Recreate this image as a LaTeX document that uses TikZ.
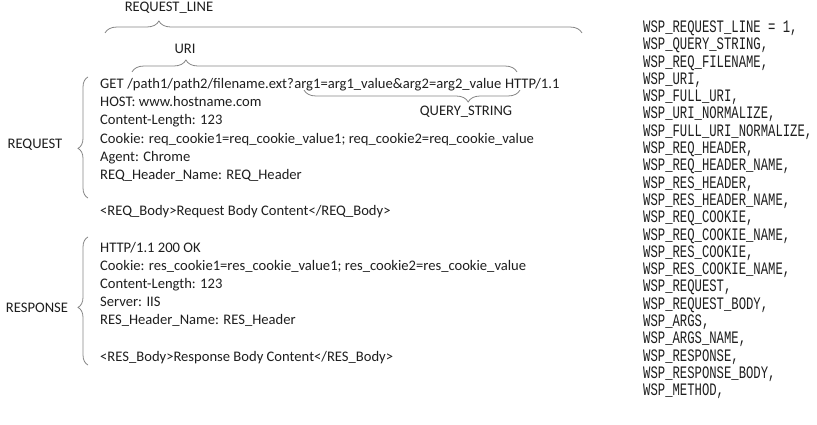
\documentclass[tikz,border=0pt]{standalone}
\usepackage{fontspec}
\setmainfont{Carlito}
\newfontfamily\wspfont[FakeStretch=0.7]{Liberation Mono}
\usetikzlibrary{decorations.pathreplacing, positioning}
\definecolor{inkgray}{HTML}{1E1E1E}
\definecolor{bracegray}{HTML}{858585}
\tikzset{
txt/.style={inner sep=0pt, text=inkgray, font=\fontsize{14.6}{18.2}\selectfont}, % every text line
nextrow/.style={below=#1, anchor=base west}, % next line, baseline to baseline
curly/.style={draw=bracegray, line width=0.8pt, decorate, decoration={brace, amplitude=#1}}, % grey brace
curly/.default=12pt,
}

\begin{document}
\begin{tikzpicture}[x=1pt,y=1pt]
  \useasboundingbox (0,0) rectangle (817,-425);
  % request line, split where the braces start and stop
  \node[txt, anchor=base west] (meth) at (100,-88.5) {GET};
  \node[txt, base right=3.3pt of meth] (path) {/path1/path2/filename.ext?};
  \node[txt, base right=0pt of path] (qs) {arg1=arg1\_value\&arg2=arg2\_value};
  \node[txt, base right=3.3pt of qs] (ver) {HTTP/1.1};
  \node[txt, nextrow=18.2pt of meth.base west] (host) {HOST: www.hostname.com};
  \node[txt, nextrow=18.2pt of host.base west] (reqlen) {Content-Length: 123};
  \node[txt, nextrow=18.2pt of reqlen.base west] (reqck) {Cookie: req\_cookie1=req\_cookie\_value1; req\_cookie2=req\_cookie\_value};
  \node[txt, nextrow=18.2pt of reqck.base west] (agent) {Agent: Chrome};
  \node[txt, nextrow=18.2pt of agent.base west] (reqhd) {REQ\_Header\_Name: REQ\_Header};
  \node[txt, nextrow=36.4pt of reqhd.base west] (reqbody) {<REQ\_Body>Request Body Content</REQ\_Body>};

  % response
  \node[txt, anchor=base west] (status) at (100,-252) {HTTP/1.1 200 OK};
  \node[txt, nextrow=18.2pt of status.base west] (resck) {Cookie: res\_cookie1=res\_cookie\_value1; res\_cookie2=res\_cookie\_value};
  \node[txt, nextrow=18.2pt of resck.base west] (reslen) {Content-Length: 123};
  \node[txt, nextrow=18.2pt of reslen.base west] (server) {Server: IIS};
  \node[txt, nextrow=18.2pt of server.base west] (reshd) {RES\_Header\_Name: RES\_Header};
  \node[txt, nextrow=36.4pt of reshd.base west] (resbody) {<RES\_Body>Response Body Content</RES\_Body>};

  % braces and their names
  \coordinate (rlA) at (105,-33);  \coordinate (rlB) at (582,-33);
  \coordinate (uriA) at (132,-72); \coordinate (uriB) at (517,-72);
  \coordinate (qsA) at (304,-90);  \coordinate (qsB) at (520,-90);
  \coordinate (reqA) at (88,-198); \coordinate (reqB) at (88,-77);
  \coordinate (resA) at (88,-365); \coordinate (resB) at (88,-237);
  \draw[curly, decoration={aspect=0.113}] (rlA) -- (rlB);
  \draw[curly, decoration={aspect=0.14}] (uriA) -- (uriB);
  \draw[curly, decoration={mirror, aspect=0.76}] (qsA) -- (qsB);
  \draw[curly=10pt, decoration={aspect=0.41}] (reqA) -- (reqB);
  \draw[curly=10pt, decoration={aspect=0.45}] (resA) -- (resB);
  \node[txt] (rlname) at (169,-8) {REQUEST\_LINE};
  \node[txt] (uriname) at (185,-49) {URI};
  \node[txt] (qsname) at (466,-112) {QUERY\_STRING};
  \node[txt] (reqname) at (35,-145) {REQUEST};
  \node[txt] (resname) at (37,-308) {RESPONSE};

  % enum list on the right
  \node[inner sep=0pt, anchor=north west, align=left, text=inkgray,
    font=\wspfont\fontsize{17.5}{17.3}\selectfont] (wsp) at (643,-20.5) {%
    WSP\_REQUEST\_LINE = 1,\\ WSP\_QUERY\_STRING,\\ WSP\_REQ\_FILENAME,\\ WSP\_URI,\\
    WSP\_FULL\_URI,\\ WSP\_URI\_NORMALIZE,\\ WSP\_FULL\_URI\_NORMALIZE,\\ WSP\_REQ\_HEADER,\\
    WSP\_REQ\_HEADER\_NAME,\\ WSP\_RES\_HEADER,\\ WSP\_RES\_HEADER\_NAME,\\ WSP\_REQ\_COOKIE,\\
    WSP\_REQ\_COOKIE\_NAME,\\ WSP\_RES\_COOKIE,\\ WSP\_RES\_COOKIE\_NAME,\\ WSP\_REQUEST,\\
    WSP\_REQUEST\_BODY,\\ WSP\_ARGS,\\ WSP\_ARGS\_NAME,\\ WSP\_RESPONSE,\\
    WSP\_RESPONSE\_BODY,\\ WSP\_METHOD,};
\end{tikzpicture}
\end{document}
